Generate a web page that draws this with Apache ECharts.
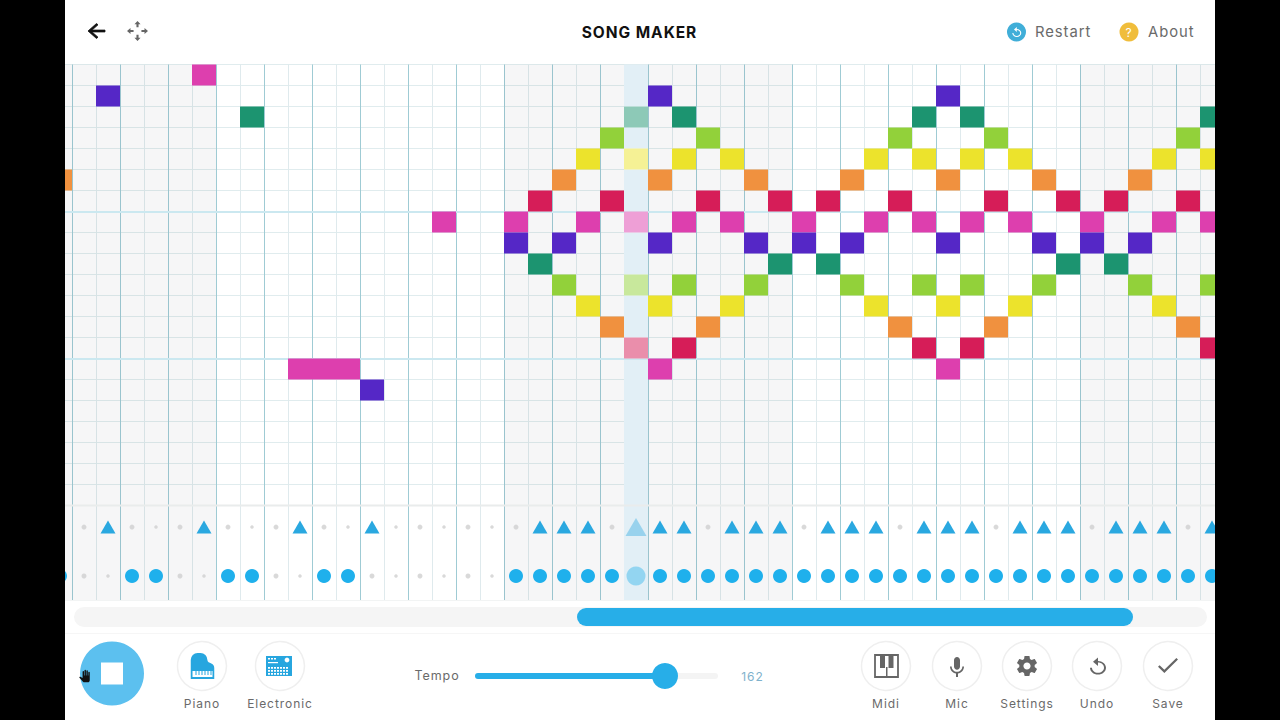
<!DOCTYPE html>
<html>
<head>
<meta charset="utf-8">
<title>Song Maker</title>
<script src="https://cdn.jsdelivr.net/npm/echarts@6/dist/echarts.min.js"></script>
<style>
html,body{margin:0;padding:0;background:#fff;}
#chart{width:1280px;height:720px;}
#chart text{letter-spacing:.95px;}
</style>
</head>
<body>
<div id="chart"></div>
<script>
'use strict';

// melody: colour of each pitch row, top row first
var rowColors=['#dd3fae','#5527c6','#1c9470','#92d13a','#ece32c','#f0913f','#d61d58','#dd3fae',
    '#5527c6','#1c9470','#92d13a','#ece32c','#f0913f','#d61d58','#dd3fae','#5527c6'];
// melody: columns holding a note, one list per pitch row
var noteColumns=[
    [5],
    [1,24,36],
    [7,23,25,35,37,47],
    [22,26,34,38,46],
    [21,23,25,27,33,35,37,39,45,47],
    [-1,20,24,28,32,36,40,44],
    [19,22,26,29,31,34,38,41,43,46],
    [15,18,21,23,25,27,30,33,35,37,39,42,45,47],
    [18,20,24,28,30,32,36,40,42,44],
    [19,29,31,41,43],
    [20,23,25,28,32,35,37,40,44,47],
    [21,24,27,33,36,39,45],
    [22,26,34,38,46],
    [23,25,35,37,47],
    [9,10,11,24,36],
    [12]
];
// percussion hits
var triangleHits=[1,5,9,12,19,20,21,23,24,25,27,28,29,31,32,33,35,36,37,39,40,41,43,44,45,47];
var circleHits=[-1,2,3,6,7,10,11,18,19,20,21,22,23,24,25,26,27,28,29,30,31,32,33,34,35,36,37,38,39,40,41,42,43,44,45,46,47];
var allColumns=[-1,0,1,2,3,4,5,6,7,8,9,10,11,12,13,14,15,16,17,18,19,20,21,22,23,24,25,26,27,28,29,30,31,32,33,34,35,36,37,38,39,40,41,42,43,44,45,46,47];
var shadedRanges=[[-1,6],[18,30],[42,48]];
var octaveRows=[7,14];
var playColumn=23;
var rowCount=21;
var tempoValue='162';

var BLUE='#27aee8';
var TEXT='#6a6a6a';
var FONT='Inter, "Noto Sans", sans-serif';

var noteData=[];
noteColumns.forEach(function(cols,row){
    cols.forEach(function(col){ noteData.push([col,row]); });
});

// percussion marks sit in the middle of their column
function hitItem(col,row){
    return {value:[col+0.5,row],itemStyle:{opacity:col===playColumn?0.4:1}};
}
function restColumns(hits){
    return allColumns.filter(function(c){ return hits.indexOf(c)<0; });
}

/** rect that covers a whole column range of its grid */
function renderBand(params,api){
    var cs=params.coordSys;
    var a=api.coord([api.value(0),api.value(2)])[0];
    var b=api.coord([api.value(1),api.value(2)])[0];
    return {type:'rect',shape:{x:a,y:cs.y,width:b-a,height:cs.height},style:{fill:api.value(3)?'#e2eff6':'rgba(70,80,90,0.05)'}};
}
function renderNote(params,api){
    var col=api.value(0),row=api.value(1);
    var p=api.coord([col,row]);
    var s=api.size([1,1]);
    var shape={x:p[0],y:p[1],width:s[0],height:s[1]};
    if(col===playColumn){
        // the playhead washes the note out towards white
        return {type:'group',children:[
            {type:'rect',shape:shape,style:{fill:'#fff'}},
            {type:'rect',shape:shape,style:{fill:rowColors[row],opacity:0.5}}
        ]};
    }
    return {type:'rect',shape:shape,style:{fill:rowColors[row]}};
}
function renderOctave(params,api){
    var cs=params.coordSys;
    var y=api.coord([0,api.value(0)])[1]+0.5;
    return {type:'line',shape:{x1:cs.x,y1:y,x2:cs.x+cs.width,y2:y},style:{stroke:'#cbe8f0',lineWidth:2}};
}

function xAxisOf(gridIndex){
    return {type:'value',gridIndex:gridIndex,min:-1,max:48,interval:1,
        axisLine:{show:false},axisTick:{show:false},axisLabel:{show:false},
        splitLine:{show:true,lineStyle:{color:['#dfeaed','#9fcbd4'],width:1}}};
}

function bandSeries(gridIndex){
    var bands=shadedRanges.map(function(r){ return [r[0],r[1],0,0]; });
    return [{type:'custom',xAxisIndex:gridIndex,yAxisIndex:gridIndex,z:1,renderItem:renderBand,data:bands,silent:true},
        {type:'custom',xAxisIndex:gridIndex,yAxisIndex:gridIndex,z:2,renderItem:renderBand,data:[[playColumn,playColumn+1,0,1]],silent:true}];
}

// icons in the toolbar, drawn in page pixels
var ICONS={
    back:'M20 11H7.83l5.59-5.59L12 4l-8 8 8 8 1.41-1.41L7.83 13H20v-2z',
    gear:'M19.43 12.98c.04-.32.07-.64.07-.98s-.03-.66-.07-.98l2.11-1.65c.19-.15.24-.42.12-.64l-2-3.46c-.12-.22-.39-.3-.61-.22l-2.49 1c-.52-.4-1.08-.73-1.69-.98l-.38-2.65C14.46 2.18 14.25 2 14 2h-4c-.25 0-.46.18-.49.42l-.38 2.65c-.61.25-1.17.59-1.69.98l-2.49-1c-.23-.09-.49 0-.61.22l-2 3.46c-.13.22-.07.49.12.64l2.11 1.65c-.04.32-.07.65-.07.98s.03.66.07.98l-2.11 1.65c-.19.15-.24.42-.12.64l2 3.46c.12.22.39.3.61.22l2.49-1c.52.4 1.08.73 1.69.98l.38 2.65c.03.24.24.42.49.42h4c.25 0 .46-.18.49-.42l.38-2.65c.61-.25 1.17-.59 1.69-.98l2.49 1c.23.09.49 0 .61-.22l2-3.46c.12-.22.07-.49-.12-.64l-2.11-1.65zM12 15.5c-1.93 0-3.5-1.57-3.5-3.5s1.57-3.5 3.5-3.5 3.5 1.57 3.5 3.5-1.57 3.5-3.5 3.5z',
    mic:'M12 14c1.66 0 3-1.34 3-3V5c0-1.66-1.34-3-3-3S9 3.34 9 5v6c0 1.66 1.34 3 3 3zm5.3-3c0 3-2.54 5.1-5.3 5.1S6.7 14 6.7 11H5c0 3.41 2.72 6.23 6 6.72V21h2v-3.28c3.28-.48 6-3.3 6-6.72h-1.7z',
    undo:'M12 5V1L7 6l5 5V7c3.31 0 6 2.69 6 6s-2.69 6-6 6-6-2.69-6-6H4c0 4.42 3.58 8 8 8s8-3.58 8-8-3.58-8-8-8z',
    check:'M9 16.17L4.83 12l-1.42 1.41L9 19 21 7l-1.41-1.41z',
    hand:'M23 5.5V20c0 2.2-1.8 4-4 4h-7.3c-1.08 0-2.1-.43-2.85-1.19L1 14.83s1.26-1.23 1.3-1.25c.22-.19.49-.29.79-.29.22 0 .42.06.6.16.04.01 4.31 2.46 4.31 2.46V4c0-.83.67-1.5 1.5-1.5S11 3.17 11 4v7h1V1.5c0-.83.67-1.5 1.5-1.5S15 .67 15 1.5V11h1V2.5c0-.83.67-1.5 1.5-1.5s1.5.67 1.5 1.5V11h1V5.5c0-.83.67-1.5 1.5-1.5s1.5.67 1.5 1.5z',
    move:'M12 0l3.500 4h-2.300v3.500h-2.400V4H8.500zM12 24l-3.500-4h2.300v-3.500h2.400V20h2.300zM0 12l4-3.500v2.300h3.500v2.400H4v2.300zM24 12l-4 3.500v-2.300h-3.500v-2.400H20V8.500z',
    piano:'M0 7a7 7 0 0 1 7-7h3a7 7 0 0 1 7 7c0 2 2 2.500 4 3.500c2 1 3 2 3 4.500V26H0z'
};
function pathIcon(d,cx,cy,w,h,fill,stroke){
    return {type:'path',shape:{pathData:d,x:cx-w/2,y:cy-h/2,width:w,height:h,layout:'cover'},
        style:{fill:fill,stroke:stroke||null,lineWidth:stroke?0.8:0}};
}
function box(x,y,w,h,fill){
    return {type:'rect',shape:{x:x,y:y,width:w,height:h},style:{fill:fill}};
}
function renderIcons(){
    var kids=[
        pathIcon(ICONS.back,96.500,31,17,15,'#111','#111'),
        pathIcon(ICONS.move,137.500,31,21,20,'#666'),
        pathIcon(ICONS.hand,84.500,676,10.500,12.500,'#111'),
        pathIcon(ICONS.piano,202.500,666,23.500,26,'#27a6df'),
        pathIcon(ICONS.mic,957,667,14,20,'#666'),
        pathIcon(ICONS.gear,1027,666,20,20,'#666'),
        pathIcon(ICONS.undo,1098,666,16,17,'#666'),
        pathIcon(ICONS.check,1168,665.500,20,15,'#666'),
        pathIcon(ICONS.undo,1016.800,32,9,10,'#fff')
    ];
    // piano keys
    kids.push(box(192.500,671,20,6,'#fff'));
    [195.500,198.500,201.500,204.500,207.500,210.500].forEach(function(x){ kids.push(box(x,671,1,4,'#27a6df')); });
    // electronic panel
    kids.push(box(266,656,26,20,'#27a6df'));
    [[268,658,2],[271,658,2],[274,658,2]].forEach(function(k){ kids.push(box(k[0],k[1],k[2],1.500,'#fff')); });
    kids.push(box(268,662,10,1.200,'#fff'));
    kids.push({type:'circle',shape:{cx:287,cy:660,r:2.400},style:{fill:'#fff'}});
    [667,670,673].forEach(function(y){
        [268,271,274,277,280,283,286].forEach(function(x){ kids.push(box(x,y,2,1.800,'#fff')); });
    });
    // midi keyboard
    kids.push({type:'rect',shape:{x:875,y:655,width:23,height:22},style:{fill:'#fff',stroke:'#666',lineWidth:1.800}});
    kids.push(box(880,655,5,13,'#666'));
    kids.push(box(888.500,655,5,13,'#666'));
    kids.push(box(886,667,1.500,10,'#666'));
    return {type:'group',children:kids};
}

function label(text,x,y,align,size,color,weight){
    return {type:'text',z:60,x:x,y:y,style:{text:text,textAlign:align,textVerticalAlign:'middle',
        font:(weight||'normal')+' '+size+'px '+FONT,fill:color}};
}
function fill(x,y,w,h,color,r){
    return {type:'rect',z:50,shape:{x:x,y:y,width:w,height:h,r:r||0},style:{fill:color}};
}
function ringButton(cx){
    return {type:'circle',z:50,shape:{cx:cx,cy:666,r:24.500},style:{fill:'#fff',stroke:'#efefef',lineWidth:1.500}};
}

var series=[].concat(bandSeries(0),bandSeries(1),[
    {type:'custom',xAxisIndex:0,yAxisIndex:0,z:2,renderItem:renderOctave,data:octaveRows.map(function(r){ return [r]; }),silent:true},
    {type:'custom',xAxisIndex:0,yAxisIndex:0,z:3,renderItem:renderNote,data:noteData,silent:true},
    {type:'scatter',xAxisIndex:1,yAxisIndex:1,z:3,silent:true,symbol:'triangle',itemStyle:{color:'#2aa8e0'},
        symbolSize:function(v){ return v[0]===playColumn+0.5?[21,18]:[15,13]; },
        data:triangleHits.map(function(c){ return hitItem(c,0); })},
    {type:'scatter',xAxisIndex:1,yAxisIndex:1,z:3,silent:true,symbol:'circle',itemStyle:{color:'#1fb0ec'},
        symbolSize:function(v){ return v[0]===playColumn+0.5?19:14; },
        data:circleHits.map(function(c){ return hitItem(c,1); })},
    {type:'scatter',xAxisIndex:1,yAxisIndex:1,z:3,silent:true,symbol:'circle',itemStyle:{color:'#cfcfcf'},
        symbolSize:function(v){ return (v[0]-0.5)%2===0?5:3.500; },
        data:restColumns(triangleHits).map(function(c){ return [c+0.5,0]; }).concat(restColumns(circleHits).map(function(c){ return [c+0.5,1]; }))},
    {type:'custom',coordinateSystem:'none',z:70,renderItem:renderIcons,data:[0],silent:true}
]);

var graphics=[
    // page frame
    fill(0,0,65,720,'#000'),
    fill(1215,0,65,720,'#000'),
    fill(65,504.500,1150,2,'#e9ecec'),
    fill(65,600,1150,1,'#f2f4f4'),
    fill(65,633,1150,1,'#f6f6f6'),
    // header
    label('SONG MAKER',639.500,32.500,'center',15.500,'#111','bold'),
    {type:'circle',z:50,shape:{cx:1016.500,cy:32,r:9.500},style:{fill:'#40aed8'}},
    label('Restart',1035,32,'left',14.800,TEXT),
    {type:'circle',z:50,shape:{cx:1129,cy:32,r:9.500},style:{fill:'#f0bd3b'}},
    label('?',1129,32,'center',12,'#fff'),
    label('About',1148,32,'left',14.800,TEXT),
    // scroll bar
    fill(74,607,1133,20,'#f5f5f5',10),
    fill(577,608,556,18,BLUE,9),
    // play button
    {type:'circle',z:50,shape:{cx:112,cy:673.500,r:32},style:{fill:'#5cc0ef'}},
    fill(101,662.500,22,22,'#fff'),
    // instruments
    ringButton(202),ringButton(280),
    label('Piano',202,703,'center',12,TEXT),
    label('Electronic',280,703,'center',12,TEXT),
    // tempo
    label('Tempo',437,675.500,'center',12.500,TEXT),
    fill(475,673,243,6,'#f4f4f4',3),
    fill(475,673,190,6,BLUE,3),
    {type:'circle',z:50,shape:{cx:665,cy:676,r:13},style:{fill:BLUE}},
    label(tempoValue,752.500,676,'center',12,'#7fb2cc'),
    // tools
    ringButton(886),ringButton(957),ringButton(1027),ringButton(1097),ringButton(1168),
    label('Midi',886,703,'center',12,TEXT),
    label('Mic',957,703,'center',12,TEXT),
    label('Settings',1027,703,'center',12,TEXT),
    label('Undo',1097,703,'center',12,TEXT),
    label('Save',1168,703,'center',12,TEXT)
];

var chart=echarts.init(document.getElementById('chart'),null,{renderer:'svg'});
chart.setOption({
    animation:false,
    backgroundColor:'#fff',
    tooltip:{show:false},
    grid:[
        {left:48,top:64.500,width:1176,height:441},
        {left:48,top:505.500,width:1176,height:95}
    ],
    xAxis:[xAxisOf(0),xAxisOf(1)],
    yAxis:[
        {type:'value',gridIndex:0,inverse:true,min:0,max:rowCount,interval:1,
            axisLine:{show:false},axisTick:{show:false},axisLabel:{show:false},
            splitLine:{show:true,lineStyle:{color:'#e0ecee',width:1}}},
        {type:'value',gridIndex:1,inverse:true,min:-0.44,max:1.5,
            axisLine:{show:false},axisTick:{show:false},axisLabel:{show:false},splitLine:{show:false}}
    ],
    series:series,
    graphic:{elements:graphics}
});
</script>
</body>
</html>
